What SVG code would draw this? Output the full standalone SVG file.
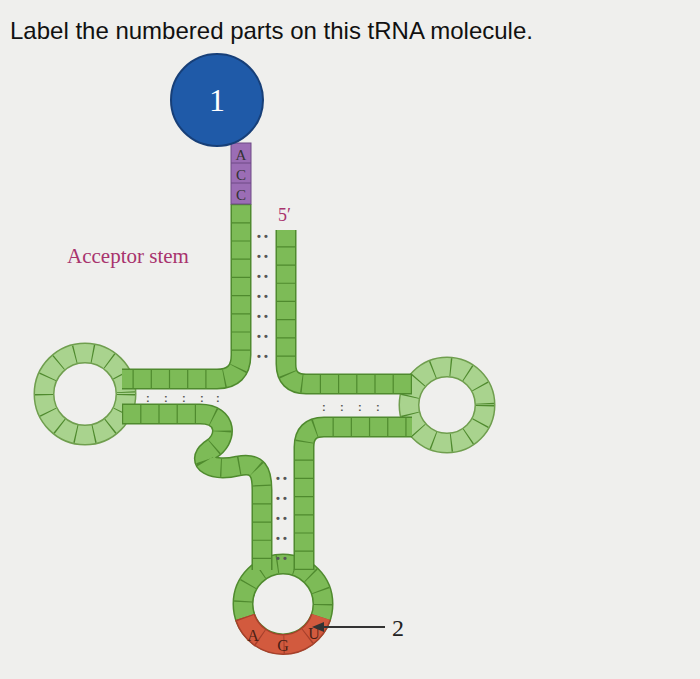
<svg xmlns="http://www.w3.org/2000/svg" width="700" height="679" viewBox="0 0 700 679">
<style>
.o{fill:none;stroke:#4f8a2e;stroke-width:21}
.g{fill:none;stroke:#7dbb57;stroke-width:18}
.lg{fill:none;stroke:#a9d38e;stroke-width:18}
.seg{fill:none;stroke:#4f8a2e;stroke-width:18;stroke-dasharray:1.2 17}
.bp{fill:#555;font-family:"Liberation Sans",sans-serif;font-size:11px;font-weight:bold}
.s{font-family:"Liberation Serif",serif}
</style>
<rect width="700" height="679" fill="#efefed"/>
<text x="10" y="39" font-family="Liberation Sans,sans-serif" font-size="24" fill="#111">Label the numbered parts on this tRNA molecule.</text>
<g id="loops">
<circle cx="85" cy="394" r="41" fill="none" stroke="#6f9e4e" stroke-width="21"/>
<circle cx="85" cy="394" r="41" class="lg"/>
<circle cx="85" cy="394" r="41" class="seg"/>
<circle cx="447" cy="405" r="38" fill="none" stroke="#6f9e4e" stroke-width="21"/>
<circle cx="447" cy="405" r="38" class="lg"/>
<circle cx="447" cy="405" r="38" class="seg"/>
<circle cx="283" cy="604" r="40" class="o"/>
<circle cx="283" cy="604" r="40" class="g"/>
<circle cx="283" cy="604" r="40" class="seg"/>
<path d="M245,617 A40,40 0 0 0 321,617" fill="none" stroke="#a7402c" stroke-width="21"/>
<path d="M245,617 A40,40 0 0 0 321,617" fill="none" stroke="#d25a3e" stroke-width="18"/>
<path d="M245,617 A40,40 0 0 0 321,617" fill="none" stroke="#a7402c" stroke-width="18" stroke-dasharray="1.2 24"/>
<text class="s" x="253" y="641" font-size="16" fill="#4a2015" text-anchor="middle">A</text>
<text class="s" x="283" y="651" font-size="16" fill="#4a2015" text-anchor="middle">G</text>
<text class="s" x="314" y="639" font-size="16" fill="#4a2015" text-anchor="middle">U</text>
</g>
<g id="strands">
<path d="M241,204 V355 Q241,379 217,379 H122" class="o"/>
<path d="M241,204 V355 Q241,379 217,379 H122" class="g"/>
<path d="M241,204 V355 Q241,379 217,379 H122" class="seg"/>
<path d="M122,414 H200 C228,414 228,440 210,450 C195,462 212,472 238,466 C258,462 262,472 262,490 V570" class="o"/>
<path d="M122,414 H200 C228,414 228,440 210,450 C195,462 212,472 238,466 C258,462 262,472 262,490 V570" class="g"/>
<path d="M122,414 H200 C228,414 228,440 210,450 C195,462 212,472 238,466 C258,462 262,472 262,490 V570" class="seg"/>
<path d="M304,570 V447 Q304,427 324,427 H412" class="o"/>
<path d="M304,570 V447 Q304,427 324,427 H412" class="g"/>
<path d="M304,570 V447 Q304,427 324,427 H412" class="seg"/>
<path d="M412,384 H306 Q286,384 286,364 V230" class="o"/>
<path d="M412,384 H306 Q286,384 286,364 V230" class="g"/>
<path d="M412,384 H306 Q286,384 286,364 V230" class="seg"/>
</g>
<g id="acc">
<rect x="231" y="143" width="20" height="61" fill="#9b6db5" stroke="#6e4a86"/>
<line x1="231" y1="163" x2="251" y2="163" stroke="#6e4a86"/>
<line x1="231" y1="183" x2="251" y2="183" stroke="#6e4a86"/>
<text class="s" x="241" y="160" font-size="15" fill="#333" text-anchor="middle">A</text>
<text class="s" x="241" y="180" font-size="15" fill="#333" text-anchor="middle">C</text>
<text class="s" x="241" y="200" font-size="15" fill="#333" text-anchor="middle">C</text>
</g>
<g id="pairs" class="bp">
<text x="257" y="240">• •</text><text x="257" y="260">• •</text><text x="257" y="280">• •</text><text x="257" y="300">• •</text><text x="257" y="320">• •</text><text x="257" y="340">• •</text><text x="257" y="360">• •</text>
<text x="146" y="402">:</text><text x="164" y="402">:</text><text x="182" y="402">:</text><text x="200" y="402">:</text><text x="216" y="402">:</text>
<text x="322" y="411">:</text><text x="340" y="411">:</text><text x="358" y="411">:</text><text x="376" y="411">:</text>
<text x="276" y="482">• •</text><text x="276" y="502">• •</text><text x="276" y="522">• •</text><text x="276" y="542">• •</text><text x="276" y="562">• •</text>
</g>
<g id="node1">
<circle cx="217" cy="100" r="46" fill="#1f5aa8" stroke="#173f78" stroke-width="2"/>
<text class="s" x="217" y="111" font-size="32" fill="#fff" text-anchor="middle">1</text>
</g>
<text class="s" x="67" y="263" font-size="21" fill="#a8336d">Acceptor stem</text>
<text class="s" x="278" y="221" font-size="18" fill="#a8336d">5′</text>
<g id="connectors">
<line x1="385" y1="627" x2="318" y2="627" stroke="#333" stroke-width="2"/>
<path d="M312,627 L324,622 L324,632 Z" fill="#333"/>
</g>
<text class="s" x="392" y="636" font-size="24" fill="#222">2</text>
</svg>
